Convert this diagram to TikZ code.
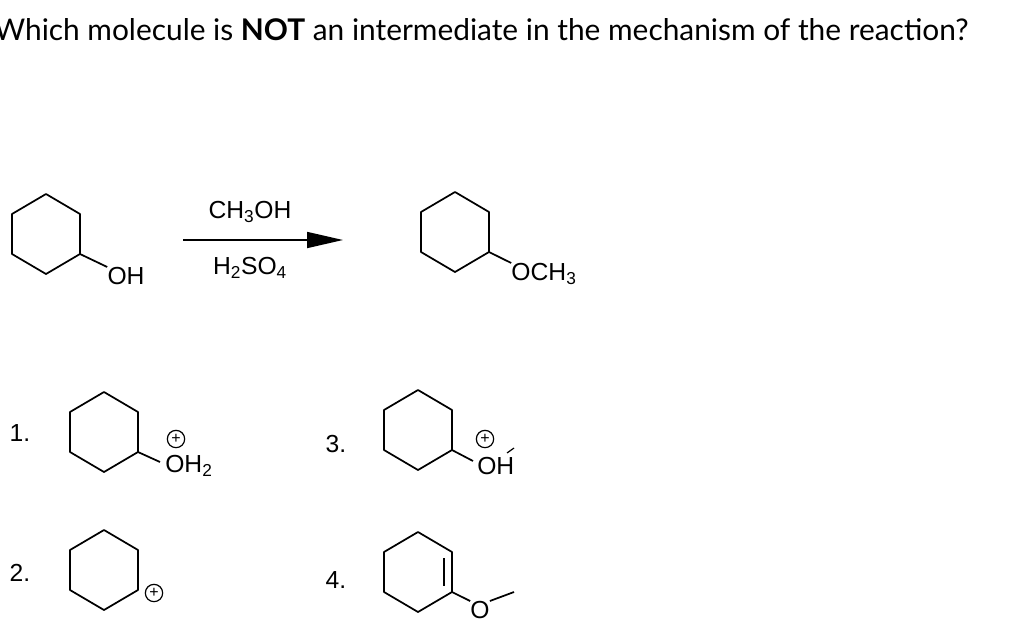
\documentclass[tikz,border=0pt]{standalone}
\usepackage{fontspec}
\setmainfont{Liberation Sans}
\newfontfamily\lato{Lato}
\usetikzlibrary{arrows.meta}
\newcommand{\hexa}[2]{\draw[bond] (#1,#2-40)--(#1+34,#2-20)--(#1+34,#2+20)--(#1,#2+40)--(#1-34,#2+20)--(#1-34,#2-20)--cycle;}
\newcommand{\sbs}[1]{\textsubscript{#1}}
\tikzset{bond/.style={line width=1.3pt,line join=round},
 lbl/.style={font=\fontsize{18.5}{20}\selectfont,inner sep=0pt},
 pl/.style={circle,draw,line width=0.9pt,minimum size=13pt,inner sep=0pt,font=\fontsize{12}{12}\selectfont}}
\begin{document}
\begin{tikzpicture}[x=0.75pt,y=-0.75pt]
\useasboundingbox (0,0) rectangle (1024,636);
\node[anchor=west,inner sep=0pt,font=\lato\fontsize{22.4}{24}\selectfont] (title) at (-6,30) {Which molecule is \textbf{NOT} an intermediate in the mechanism of the reaction?};
% reactant
\hexa{46}{234}
\node[lbl] (oh) at (126,276) {OH};
\draw[bond] (80,254) -- (oh.north west);
\node[lbl] (r1) at (250,212) {CH\sbs{3}OH};
\node[lbl] (r2) at (250,268) {H\sbs{2}SO\sbs{4}};
\coordinate (as) at (183,240); \coordinate (ae) at (343,240);
\draw[line width=1.3pt,-{Triangle[length=27pt,width=12pt]}] (as) -- (ae);
% product
\hexa{455}{232}
\node[lbl] (och) at (544,274) {OCH\sbs{3}};
\draw[bond] (489,252) -- (och.north west);
% options
\node[lbl] (n1) at (20,433) {1.};
\node[lbl] (n2) at (20,573) {2.};
\node[lbl] (n3) at (336,444) {3.};
\node[lbl] (n4) at (336,580) {4.};
% 1
\hexa{104}{432}
\node[lbl,anchor=west] (o1) at (165,466) {OH\sbs{2}};
\draw[bond] (138,452) -- (160,462);
\node[pl] (p1) at (176,439) {+};
% 2
\hexa{104}{570}
\node[pl] (p2) at (154,593) {+};
% 3
\hexa{418}{430}
\node[lbl,anchor=west] (o3) at (477,466) {OH};
\draw[bond] (452,450) -- (473,461);
\node[pl] (p3) at (485,439) {+};
\draw[line width=0.9pt] (507,453) -- (514,448);
% 4
\hexa{418}{572}
\draw[bond] (444,558) -- (444,586);
\node[lbl] (o4) at (480,610) {O};
\draw[bond] (452,592) -- (o4.north west);
\draw[bond] (o4.north east) -- (514,592);
\end{tikzpicture}
\end{document}
